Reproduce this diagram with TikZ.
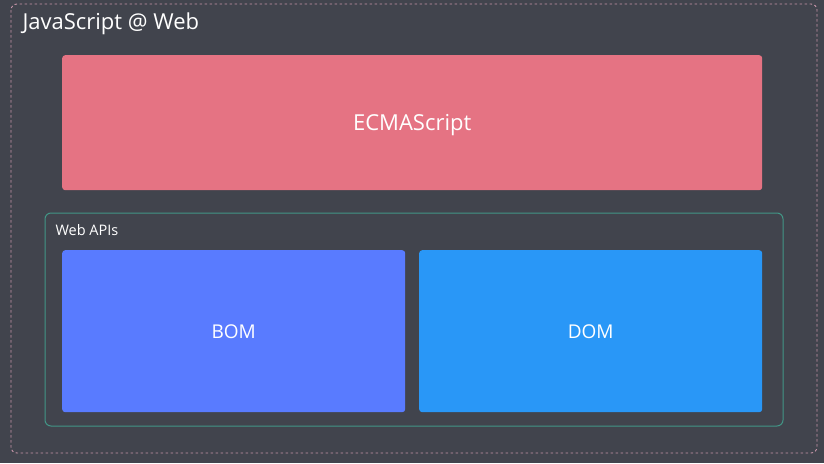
\documentclass[tikz,border=0pt]{standalone}
\usepackage{fontspec}
\setmainfont{Open Sans}
\usetikzlibrary{positioning}
\definecolor{fond}{RGB}{65,68,77}
\definecolor{ecma}{RGB}{229,115,131}
\definecolor{bom}{RGB}{89,123,255}
\definecolor{dom}{RGB}{41,151,247}
\definecolor{cadre}{RGB}{200,150,170}
\definecolor{sarcelle}{RGB}{66,150,134}
\tikzset{
  bloc/.style={anchor=north west,inner sep=0pt,rounded corners=3pt,text=white,font=\fontsize{19}{22}\selectfont},
}

\begin{document}
\begin{tikzpicture}[x=1pt,y=-1pt]
\fill [fond] (0,0) rectangle (824,463);
\useasboundingbox (0,0) rectangle (824,463);
\draw [cadre,line width=0.9pt,dash pattern=on 2.5pt off 2.5pt,rounded corners=6pt] (11,4) rectangle (817,453);
\node (titre) [anchor=west,text=white,font=\fontsize{22}{26}\selectfont] at (19,24) {JavaScript @ Web};
\node (ecma) [bloc,fill=ecma,minimum width=700pt,minimum height=135pt,text depth=-6pt,font=\fontsize{22}{26}\selectfont] at (62,55) {ECMAScript};
\draw [sarcelle,line width=1pt,rounded corners=6pt] (45,213) rectangle (783,426);
\node (apis) [anchor=west,text=white,font=\fontsize{14.5}{17}\selectfont] at (52,230) {Web APIs};
\node (bom) [bloc,fill=bom,minimum width=343pt,minimum height=162pt] at (62,250) {BOM};
\node (dom) [bloc,fill=dom,minimum width=343pt,minimum height=162pt] at (419,250) {DOM};
\end{tikzpicture}
\end{document}
